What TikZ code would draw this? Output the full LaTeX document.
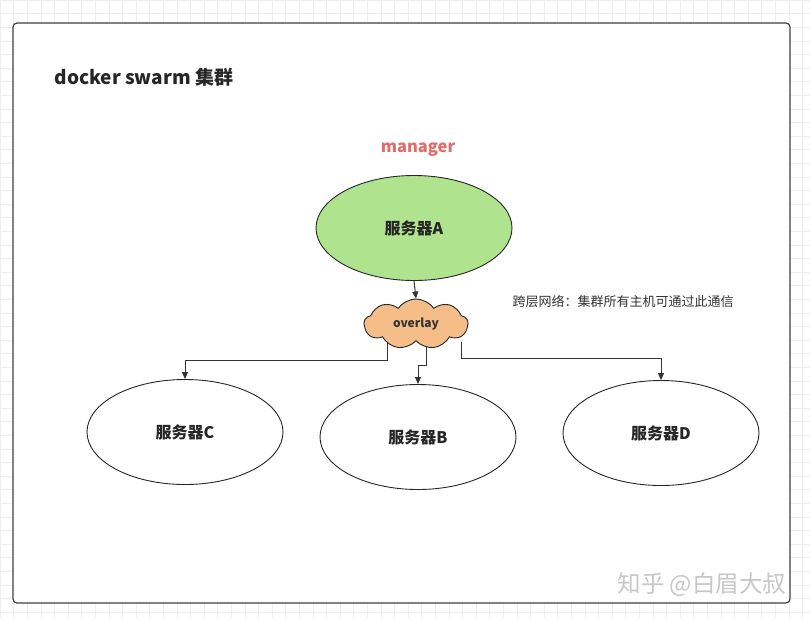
\documentclass[tikz,border=0pt]{standalone}
\usepackage{fontspec}
\setmainfont{Noto Sans CJK SC}
\usetikzlibrary{shapes.symbols,shapes.geometric,arrows.meta,calc}
\begin{document}
\begin{tikzpicture}[x=1pt,y=-1pt,
  srv/.style={ellipse,draw=black!85,line width=0.9pt,minimum width=196pt,minimum height=105pt,font=\bfseries\fontsize{16}{18}\selectfont,text=black!85},
  conn/.style={draw=black!80,line width=1pt,-{Triangle[length=7pt,width=6pt]}}]
\useasboundingbox (0,0) rectangle (810,619);
\fill[white] (0,0) rectangle (810,619);
\draw[black!7,line width=0.5pt,step=13.6pt] (0,0) grid (810,619);
\draw[black!75,line width=1.2pt,rounded corners=4pt,fill=white] (13,23) rectangle (790,603);
\node[anchor=west,font=\bfseries\fontsize{19}{22}\selectfont,text=black!85] (title) at (51,77) {docker swarm 集群};
\node[font=\bfseries\fontsize{16.5}{19}\selectfont,text={rgb,255:red,224;green,108;blue,108}] (mgr) at (418,150) {manager};
\node[srv,fill={rgb,255:red,176;green,227;blue,141}] (A) at (414,228) {服务器A};
\node[srv] (C) at (185,432) {服务器C};
\node[srv] (B) at (418,437) {服务器B};
\node[srv] (D) at (661,433) {服务器D};
\node[cloud,cloud puffs=9,cloud puff arc=110,aspect=2.2,draw=black!85,line width=0.9pt,fill={rgb,255:red,245;green,189;blue,135},minimum width=104pt,minimum height=50pt,inner sep=0pt,font=\bfseries\fontsize{12}{14}\selectfont,text=black!80] (cl) at (416,324) {overlay};
\node[anchor=west,font=\fontsize{13}{15}\selectfont,text=black!80] (note) at (509,302) {跨层网络：集群所有主机可通过此通信};
\node[anchor=west,font=\fontsize{23.5}{26}\selectfont,text=black!22] (wm) at (614,585) {知乎 @白眉大叔};
\coordinate (c1) at (387,342);
\coordinate (c2) at (426,346);
\coordinate (c3) at (461,342);
\draw[conn] (A.south) -- (cl.north);
\draw[conn] (c1) -- (387,360) -| (C.north);
\draw[conn] (c2) -- (426,365) -| (B.north);
\draw[conn] (c3) -- (461,358) -| (D.north);
\end{tikzpicture}
\end{document}
